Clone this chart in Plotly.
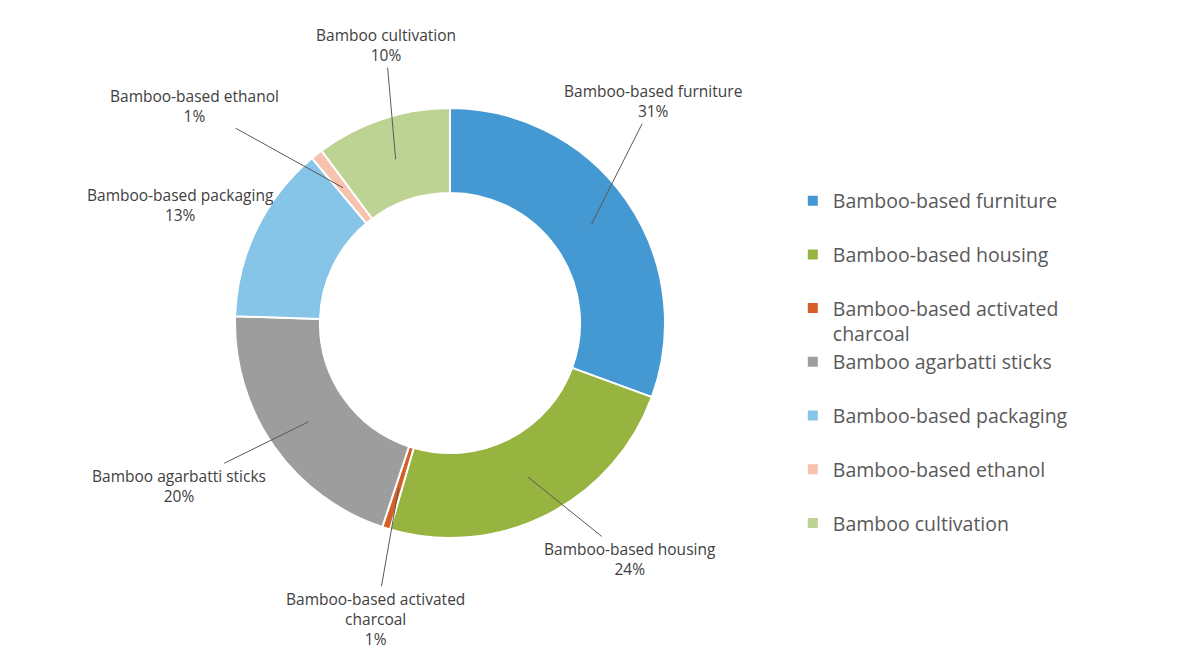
import math
import plotly.graph_objects as go

# segments, clockwise from 12 o'clock
labels = ["Bamboo-based furniture", "Bamboo-based housing", "Bamboo-based activated charcoal",
          "Bamboo agarbatti sticks", "Bamboo-based packaging", "Bamboo-based ethanol",
          "Bamboo cultivation"]
shares = [30.6, 23.9, 0.6, 20.4, 13.4, 0.9, 10.2]
colors = ["#4599D3", "#96B43F", "#D55F27", "#9D9D9D", "#86C5E8", "#F5C3AE", "#BCD394"]

# legend names (charcoal wraps in the original)
legend_names = ["Bamboo-based furniture", "Bamboo-based housing", "Bamboo-based activated<br>charcoal",
                "Bamboo agarbatti sticks", "Bamboo-based packaging", "Bamboo-based ethanol",
                "Bamboo cultivation"]
# data-label text
label_text = ["Bamboo-based furniture", "Bamboo-based housing", "Bamboo-based activated<br>charcoal",
              "Bamboo agarbatti sticks", "Bamboo-based packaging", "Bamboo-based ethanol",
              "Bamboo cultivation"]

W, H = 1200, 670
# page body has an 8px margin, so the layout is shifted back by that
cx, cy, R = 442, 315, 215
hole = 0.605

# label offsets from leader-line tip (pixels), and whether a leader line is drawn
label_dx = [62, 102, -23, -130, -114, -148, -10]
label_dy = [-123, 82, 131, 64, -43, -82, -114]
leader = [True, True, True, True, False, True, True]

fig = go.Figure()
fig.add_trace(go.Pie(
    labels=[n + "<br> " if "<br>" not in n else n for n in legend_names],
    values=shares,
    sort=False,
    direction="clockwise",
    rotation=0,
    hole=hole,
    textinfo="none",
    marker=dict(colors=colors, line=dict(color="white", width=2)),
    domain=dict(x=[(cx - R) / W, (cx + R) / W], y=[1 - (cy + R) / H, 1 - (cy - R) / H]),
))

total = sum(shares)
cum = 0
r_tip = R * (1 + hole) / 2
lab_font = dict(size=15.5, color="#404040")
for i, v in enumerate(shares):
    mid = (cum + v / 2) / total * 2 * math.pi
    cum += v
    tx = cx + r_tip * math.sin(mid)
    ty = cy - r_tip * math.cos(mid)
    txt = "%s<br>%d%%" % (label_text[i], round(v / total * 100))
    if leader[i]:
        fig.add_annotation(x=tx / W, y=1 - ty / H, xref="paper", yref="paper",
                           text=txt, showarrow=True, arrowhead=0, arrowwidth=1,
                           arrowcolor="#595959", ax=label_dx[i], ay=label_dy[i],
                           font=lab_font, align="center")
    else:
        fig.add_annotation(x=tx / W, y=1 - ty / H, xref="paper", yref="paper",
                           text=txt, showarrow=False, xanchor="center", yanchor="middle",
                           xshift=label_dx[i], yshift=-label_dy[i],
                           font=lab_font, align="center")

fig.update_layout(
    width=W, height=H,
    margin=dict(l=0, r=0, t=0, b=0),
    paper_bgcolor="white",
    font=dict(family="Open Sans, sans-serif"),
    legend=dict(x=0.654, xanchor="left", y=0.741, yanchor="top", valign="top",
                font=dict(size=19.5, color="#595959"), traceorder="normal"),
)

fig.write_html("out.html")
